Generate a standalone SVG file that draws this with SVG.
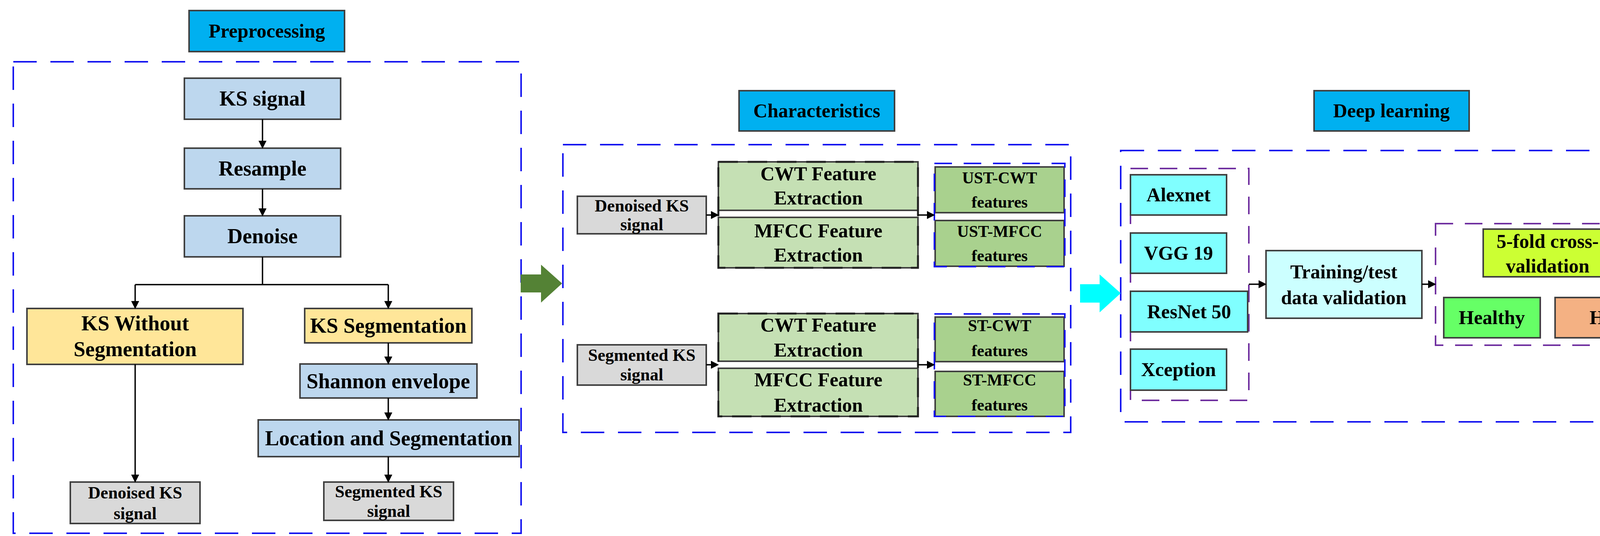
<svg xmlns="http://www.w3.org/2000/svg" width="4306" height="1371" viewBox="0 0 4306 1371">
<defs>
<marker id="ah" markerWidth="6" markerHeight="6" refX="5" refY="3" orient="auto" markerUnits="strokeWidth"><path d="M0,0 L6,3 L0,6 z" fill="#000"/></marker>
<style>
text{font-family:"Liberation Serif","Times New Roman",serif;font-weight:bold;fill:#000;text-anchor:middle;dominant-baseline:central}
.b{stroke:#404040;stroke-width:4}
.blue{fill:#BDD7EE}.yel{fill:#FFE699}.gray{fill:#D9D9D9}.hdr{fill:#00B0F0}
.lg{fill:#C5E0B4}.dg{fill:#A9D18E}.cy{fill:#80FFFF}.lc{fill:#CCFFFF}
.ob{fill:none;stroke:#1515F0;stroke-width:4;stroke-dasharray:60 35}
.op{fill:none;stroke:#7030A0;stroke-width:4;stroke-dasharray:45 30}
.od{fill:none;stroke:#202020;stroke-width:5;stroke-dasharray:50 25}
.c{fill:none;stroke:#000;stroke-width:3.5;marker-end:url(#ah)}
.l{fill:none;stroke:#000;stroke-width:3.5}
.t54{font-size:54px}.t44{font-size:44px}.t50{font-size:50px}.t42{font-size:42px}
</style>
</defs>
<rect width="4306" height="1371" fill="#fff"/>

<!-- containers -->
<rect class="ob" x="34" y="158" width="1300" height="1206"/>
<rect class="ob" x="1441" y="370" width="1300" height="736"/>
<rect class="ob" x="2869" y="385" width="1398" height="694"/>

<!-- headers -->
<g id="hdr-pre"><rect class="b hdr" x="484" y="27" width="398" height="105"/><text class="t50" x="683" y="79">Preprocessing</text></g>
<g id="hdr-char"><rect class="b hdr" x="1892" y="232" width="398" height="103"/><text class="t50" x="2091" y="283">Characteristics</text></g>
<g id="hdr-dl"><rect class="b hdr" x="3364" y="232" width="397" height="103"/><text class="t50" x="3562" y="283">Deep learning</text></g>

<!-- big arrows -->
<g id="arrow-green"><path d="M1333,702 H1385 V677 L1439,725 L1385,774 V748 H1333 z" fill="#548235"/></g>
<g id="arrow-cyan"><path d="M2765,727 H2815 V702 L2869,750 L2815,799 V774 H2765 z" fill="#00FFFF"/></g>

<!-- preprocessing nodes -->
<g id="ks"><rect class="b blue" x="472" y="200" width="400" height="105"/><text class="t54" x="672" y="252">KS signal</text></g>
<g id="resample"><rect class="b blue" x="472" y="379" width="400" height="104"/><text class="t54" x="672" y="431">Resample</text></g>
<g id="denoise"><rect class="b blue" x="472" y="552" width="400" height="105"/><text class="t54" x="672" y="604">Denoise</text></g>
<g id="ks-without"><rect class="b yel" x="69" y="789" width="553" height="143"/><text class="t54" x="346" y="827">KS Without</text><text class="t54" x="346" y="893">Segmentation</text></g>
<g id="ks-seg"><rect class="b yel" x="780" y="789" width="428" height="88"/><text class="t54" x="994" y="833">KS Segmentation</text></g>
<g id="shannon"><rect class="b blue" x="768" y="931" width="453" height="87"/><text class="t54" x="994" y="975">Shannon envelope</text></g>
<g id="location"><rect class="b blue" x="661" y="1074" width="668" height="94"/><text class="t54" x="995" y="1121">Location and Segmentation</text></g>
<g id="out-denoised"><rect class="b gray" x="180" y="1233" width="332" height="106"/><text class="t44" x="346" y="1260">Denoised KS</text><text class="t44" x="346" y="1313">signal</text></g>
<g id="out-seg"><rect class="b gray" x="829" y="1233" width="332" height="98"/><text class="t44" x="995" y="1257">Segmented KS</text><text class="t44" x="995" y="1307">signal</text></g>

<!-- characteristics nodes -->
<g id="in-denoised"><rect class="b gray" x="1478" y="502" width="330" height="96"/><text class="t44" x="1643" y="526">Denoised KS</text><text class="t44" x="1643" y="574">signal</text></g>
<g id="fe-top">
<rect class="b lg" x="1839" y="414" width="511" height="124"/><text class="t50" x="2095" y="444">CWT Feature</text><text class="t50" x="2095" y="506">Extraction</text>
<rect class="b lg" x="1839" y="556" width="511" height="129"/><text class="t50" x="2095" y="590">MFCC Feature</text><text class="t50" x="2095" y="652">Extraction</text>
<rect class="od" x="1839" y="414" width="511" height="271"/>
</g>
<g id="ust">
<rect class="b dg" x="2394" y="427" width="330" height="117"/><text class="t42" x="2559" y="455">UST-CWT</text><text class="t42" x="2559" y="517">features</text>
<rect class="b dg" x="2394" y="564" width="330" height="117"/><text class="t42" x="2559" y="592">UST-MFCC</text><text class="t42" x="2559" y="654">features</text>
<rect fill="none" stroke="#1515F0" stroke-width="4" stroke-dasharray="45 30" x="2392" y="418" width="334" height="264"/>
</g>
<g id="in-seg"><rect class="b gray" x="1478" y="882" width="330" height="103"/><text class="t44" x="1643" y="908">Segmented KS</text><text class="t44" x="1643" y="958">signal</text></g>
<g id="fe-bot">
<rect class="b lg" x="1839" y="802" width="511" height="122"/><text class="t50" x="2095" y="831">CWT Feature</text><text class="t50" x="2095" y="895">Extraction</text>
<rect class="b lg" x="1839" y="942" width="511" height="123"/><text class="t50" x="2095" y="971">MFCC Feature</text><text class="t50" x="2095" y="1036">Extraction</text>
<rect class="od" x="1839" y="802" width="511" height="263"/>
</g>
<g id="st">
<rect class="b dg" x="2394" y="811" width="330" height="114"/><text class="t42" x="2559" y="833">ST-CWT</text><text class="t42" x="2559" y="897">features</text>
<rect class="b dg" x="2394" y="950" width="330" height="115"/><text class="t42" x="2559" y="972">ST-MFCC</text><text class="t42" x="2559" y="1036">features</text>
<rect fill="none" stroke="#1515F0" stroke-width="4" stroke-dasharray="45 30" x="2392" y="803" width="334" height="262"/>
</g>

<!-- deep learning nodes -->
<rect class="op" x="2894" y="431" width="303" height="593"/>
<g id="alexnet"><rect class="b cy" x="2894" y="447" width="246" height="103"/><text class="t50" x="3017" y="498">Alexnet</text></g>
<g id="vgg"><rect class="b cy" x="2894" y="596" width="246" height="103"/><text class="t50" x="3017" y="647">VGG 19</text></g>
<g id="resnet"><rect class="b cy" x="2894" y="745" width="300" height="104"/><text class="t50" x="3044" y="797">ResNet 50</text></g>
<g id="xception"><rect class="b cy" x="2894" y="893" width="246" height="105"/><text class="t50" x="3017" y="945">Xception</text></g>
<g id="training"><rect class="b lc" x="3241" y="641" width="399" height="173"/><text class="t50" x="3440" y="695">Training/test</text><text class="t50" x="3440" y="761">data validation</text></g>
<rect class="op" x="3675" y="572" width="567" height="311"/>
<g id="fivefold"><rect class="b" fill="#CCFF33" x="3797" y="586" width="330" height="122"/><text class="t50" x="3962" y="617">5-fold  cross-</text><text class="t50" x="3962" y="680">validation</text></g>
<g id="healthy"><rect class="b" fill="#66FF66" x="3696" y="761" width="247" height="103"/><text class="t50" x="3819" y="812">Healthy</text></g>
<g id="hf"><rect class="b" fill="#F4B183" x="3981" y="761" width="246" height="103"/><text class="t50" x="4104" y="812">HF</text></g>

<!-- connectors -->
<g id="connectors">
<path class="c" d="M672,305 V377"/>
<path class="c" d="M672,483 V550"/>
<path class="l" d="M672,657 V728 M346,728 H994"/>
<path class="c" d="M346,728 V787"/>
<path class="c" d="M994,728 V787"/>
<path class="c" d="M346,932 V1231"/>
<path class="c" d="M994,877 V929"/>
<path class="c" d="M994,1018 V1072"/>
<path class="c" d="M994,1168 V1231"/>
<path class="c" d="M1808,550 H1837"/>
<path class="c" d="M2350,550 H2390"/>
<path class="c" d="M1808,933 H1837"/>
<path class="c" d="M2350,933 H2390"/>
<path class="c" d="M3197,727 H3239"/>
<path class="c" d="M3640,727 H3673"/>
</g>
</svg>
